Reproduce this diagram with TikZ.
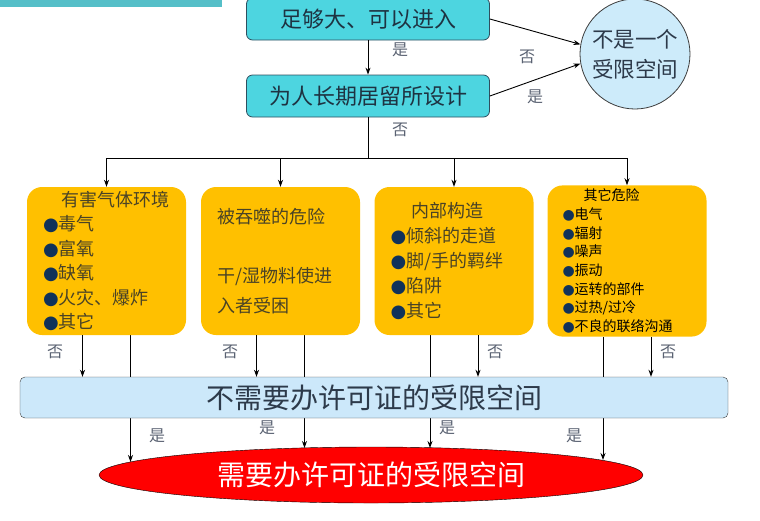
\documentclass[tikz,border=0pt]{standalone}
\usepackage{fontspec}
\setmainfont{Noto Sans CJK SC}
\newfontfamily\symfont{DejaVu Sans}
\usetikzlibrary{shapes.geometric,arrows.meta,positioning,calc,backgrounds}
\definecolor{topbar}{HTML}{55BFC8}
\definecolor{askcyan}{HTML}{4DD5E0}
\definecolor{askline}{HTML}{2F4F5F}
\definecolor{asktext}{HTML}{1E3342}
\definecolor{circblue}{HTML}{CDEBFA}
\definecolor{hazardorange}{HTML}{FFC000}
\definecolor{hazardtext}{HTML}{4A4326}
\definecolor{bulletblue}{HTML}{10325A}
\definecolor{barblue}{HTML}{CCE8FA}
\definecolor{barline}{HTML}{3C3C3C}
\definecolor{bartext}{HTML}{2D3A4A}
\definecolor{lbltext}{HTML}{5A6272}
\newcommand{\bul}{{\color{bulletblue}\symfont ●}}

\begin{document}
\begin{tikzpicture}[x=1pt, y=-1pt,
    ask/.style={rectangle, draw=askline, thick, fill=askcyan, rounded corners=6pt,
        minimum width=243pt, minimum height=42pt, text=asktext,
        font=\fontsize{22pt}{26pt}\selectfont},
    hazard/.style={rectangle, fill=hazardorange, rounded corners=15pt,
        minimum width=159pt, minimum height=148pt, inner xsep=16pt,
        text width=127pt, align=left, text=hazardtext},
    lbl/.style={font=\fontsize{16pt}{18pt}\selectfont, text=lbltext, inner sep=0pt},
    arr/.style={-{Stealth[length=7pt,width=5pt]}, line width=0.9pt},
    wire/.style={line width=0.9pt}
]
    \useasboundingbox (0,0) rectangle (760,520);
    \fill[topbar] (0,0) rectangle (222,7);

    % Entry questions
    \node[ask] (enter) at (368,19) {足够大、可以进入};
    \node[ask] (design) at (368,96) {为人长期居留所设计};
    \node[circle, draw=barline, thick, fill=circblue, minimum size=110pt, align=center,
        text=bartext, font=\fontsize{21.5pt}{30pt}\selectfont] (notcs) at (635,54)
        {不是一个\\受限空间};

    \draw[arr] (enter) -- (design);
    \draw[arr] (enter.east) -- (notcs.170);
    \draw[arr] (design.east) -- (notcs.190);

    \node[lbl] (yes1) at (400,50) {是};
    \node[lbl] (no1) at (527,57) {否};
    \node[lbl] (yes2) at (535,97) {是};
    \node[lbl] (no2) at (400,130) {否};

    % Hazard groups
    \node[hazard, font=\fontsize{18pt}{24.5pt}\selectfont] (gas) at (106.5,261)
        {\hspace*{18pt}有害气体环境\\ \bul 毒气\\ \bul 富氧\\ \bul 缺氧\\ \bul 火灾、爆炸\\ \bul 其它};
    \node[hazard, font=\fontsize{18pt}{29.5pt}\selectfont] (engulf) at (280.5,261)
        {被吞噬的危险\\[29.5pt]干/湿物料使进\\入者受困};
    \node[hazard, font=\fontsize{18pt}{25pt}\selectfont] (inner) at (454,261)
        {\hspace*{21pt}内部构造\\ \bul 倾斜的走道\\ \bul 脚/手的羁绊\\ \bul 陷阱\\ \bul 其它};
    \node[hazard, inner xsep=15pt, text width=129pt, text=black,
        font=\fontsize{14pt}{18.7pt}\selectfont] (other) at (627,261)
        {\hspace*{21pt}其它危险\\ \bul 电气\\ \bul 辐射\\ \bul 噪声\\ \bul 振动\\ \bul 运转的部件\\ \bul 过热/过冷\\ \bul 不良的联络沟通};

    \draw[wire] (design.south) -- ++(0,41) coordinate (fork);
    \draw[wire] (fork -| gas.north) -- (fork -| other.north);
    \foreach \b in {gas,engulf,inner,other}
        \draw[arr] (fork -| \b.north) -- (\b.north);

    % Outcomes
    \node[rectangle, draw=barline, fill=barblue, rounded corners=5pt, minimum width=708pt,
        minimum height=41pt, text=bartext, font=\fontsize{28pt}{32pt}\selectfont] (nopermit)
        at (374,397.5) {不需要办许可证的受限空间};
    \node[ellipse, draw=black, fill=red, inner sep=0pt, minimum width=544pt, minimum height=56pt,
        text=white, font=\fontsize{28pt}{32pt}\selectfont] (permit) at (371,475)
        {需要办许可证的受限空间};

    \coordinate (rimA) at ($(permit.center)+(-240.5,-13)$);
    \coordinate (rimB) at ($(permit.center)+(-66.5,-27)$);
    \coordinate (rimC) at ($(permit.center)+(59,-27)$);
    \coordinate (rimD) at ($(permit.center)+(232,-15)$);

    \begin{scope}[on background layer]
        \draw[arr] ([xshift=24pt]gas.south) -- (rimA);
        \draw[arr] ([xshift=24pt]engulf.south) -- (rimB);
        \draw[arr] ([xshift=-24pt]inner.south) -- (rimC);
        \draw[arr] ([xshift=-24pt]other.south) -- (rimD);
    \end{scope}

    \draw[arr] ([xshift=-24pt]gas.south) -- ([xshift=-24pt]gas.south |- nopermit.north);
    \draw[arr] ([xshift=-24pt]engulf.south) -- ([xshift=-24pt]engulf.south |- nopermit.north);
    \draw[arr] ([xshift=24pt]inner.south) -- ([xshift=24pt]inner.south |- nopermit.north);
    \draw[arr] ([xshift=24pt]other.south) -- ([xshift=24pt]other.south |- nopermit.north);

    \node[lbl] (noA) at (55,352) {否};
    \node[lbl] (noB) at (230,352) {否};
    \node[lbl] (noC) at (495,352) {否};
    \node[lbl] (noD) at (668,352) {否};
    \node[lbl] (yesA) at (157,436) {是};
    \node[lbl] (yesB) at (267,428) {是};
    \node[lbl] (yesC) at (447,428) {是};
    \node[lbl] (yesD) at (574,436) {是};
\end{tikzpicture}
\end{document}
